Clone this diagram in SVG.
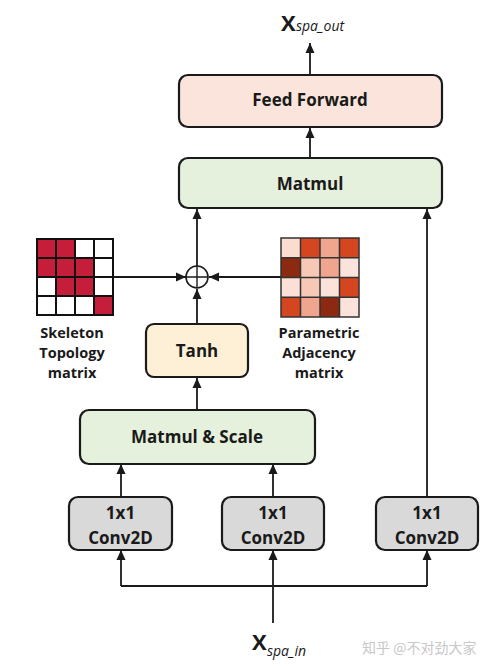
<svg xmlns="http://www.w3.org/2000/svg" width="496" height="667" viewBox="0 0 496 667">
<style>
.box{stroke:#1a1a1a;stroke-width:2.2}
.t{font-family:"Open Sans","Liberation Sans",sans-serif;font-weight:700;font-size:17px;fill:#1a1a1a;text-anchor:middle}
.lbl{font-family:"Open Sans","Liberation Sans",sans-serif;font-weight:700;font-size:14.5px;fill:#1a1a1a;text-anchor:middle}
.ln{stroke:#1a1a1a;stroke-width:1.8;fill:none}
.g1{stroke:#111;stroke-width:2}
.g2{stroke:#333;stroke-width:1.5}
</style>
<defs>
<marker id="a" viewBox="0 0 10 10" refX="10" refY="5" markerWidth="10" markerHeight="10" orient="auto" markerUnits="userSpaceOnUse">
<path d="M0,0.5 L10,5 L0,9.5 z" fill="#1a1a1a"/>
</marker>
</defs>
<rect width="496" height="667" fill="#fff"/>

<g id="connectors">
<path class="ln" d="M310,74 V43" marker-end="url(#a)"/>
<path class="ln" d="M310,158 V128" marker-end="url(#a)"/>
<path class="ln" d="M197,266 V209" marker-end="url(#a)"/>
<path class="ln" d="M197,324 V289" marker-end="url(#a)"/>
<path class="ln" d="M113,277 H186" marker-end="url(#a)"/>
<path class="ln" d="M281,277 H209" marker-end="url(#a)"/>
<path class="ln" d="M197,410 V378" marker-end="url(#a)"/>
<path class="ln" d="M121,497 V464" marker-end="url(#a)"/>
<path class="ln" d="M273,497 V464" marker-end="url(#a)"/>
<path class="ln" d="M427,497 V209" marker-end="url(#a)"/>
<path class="ln" d="M273,623 V550" marker-end="url(#a)"/>
<path class="ln" d="M121,586 H427"/>
<path class="ln" d="M121,586 V550" marker-end="url(#a)"/>
<path class="ln" d="M427,586 V550" marker-end="url(#a)"/>
</g>

<g id="out-label">
<text x="281" y="31" font-family="'Open Sans','Liberation Sans',sans-serif" font-weight="700" font-size="22" fill="#1a1a1a">X</text>
<text x="296" y="31" font-family="'Open Sans','Liberation Sans',sans-serif" font-style="italic" font-size="14" fill="#1a1a1a">spa_out</text>
</g>

<g id="feed-forward">
<rect class="box" x="179" y="75" width="263" height="52" rx="9" fill="#fbe4db"/>
<text class="t" x="310" y="106">Feed Forward</text>
</g>

<g id="matmul">
<rect class="box" x="179" y="158" width="263" height="50" rx="9" fill="#e5f1dc"/>
<text class="t" x="310" y="190">Matmul</text>
</g>

<g id="add">
<circle cx="197" cy="277" r="11" fill="#fff" stroke="#1a1a1a" stroke-width="1.6"/>
<path d="M186,277 H208 M197,266 V288" stroke="#1a1a1a" stroke-width="1.4"/>
</g>

<g id="skeleton-matrix">
<g fill="#c41e3a">
<rect x="37" y="239" width="19" height="19"/><rect x="56" y="239" width="19" height="19"/>
<rect x="37" y="258" width="19" height="19"/><rect x="56" y="258" width="19" height="19"/><rect x="75" y="258" width="19" height="19"/>
<rect x="56" y="277" width="19" height="19"/><rect x="75" y="277" width="19" height="19"/>
<rect x="94" y="296" width="19" height="19"/>
</g>
<g class="g1" fill="none">
<rect x="37" y="239" width="76" height="76"/>
<path d="M56,239 V315 M75,239 V315 M94,239 V315 M37,258 H113 M37,277 H113 M37,296 H113"/>
</g>
<text class="lbl" x="72" y="338">Skeleton</text>
<text class="lbl" x="72" y="358">Topology</text>
<text class="lbl" x="72" y="378">matrix</text>
</g>

<g id="parametric-matrix">
<rect x="281" y="238" width="19.5" height="19.75" fill="#fadcd0"/>
<rect x="300.5" y="238" width="19.5" height="19.75" fill="#d4461f"/>
<rect x="320" y="238" width="19.5" height="19.75" fill="#f0a68e"/>
<rect x="339.5" y="238" width="19.5" height="19.75" fill="#d4461f"/>
<rect x="281" y="257.75" width="19.5" height="19.75" fill="#8b2a10"/>
<rect x="300.5" y="257.75" width="19.5" height="19.75" fill="#f7c8b6"/>
<rect x="320" y="257.75" width="19.5" height="19.75" fill="#f0a68e"/>
<rect x="339.5" y="257.75" width="19.5" height="19.75" fill="#fbe3dc"/>
<rect x="281" y="277.5" width="19.5" height="19.75" fill="#fbe0d6"/>
<rect x="300.5" y="277.5" width="19.5" height="19.75" fill="#f7c8b6"/>
<rect x="320" y="277.5" width="19.5" height="19.75" fill="#fbe3dc"/>
<rect x="339.5" y="277.5" width="19.5" height="19.75" fill="#d4461f"/>
<rect x="281" y="297.25" width="19.5" height="19.75" fill="#d4461f"/>
<rect x="300.5" y="297.25" width="19.5" height="19.75" fill="#f0a68e"/>
<rect x="320" y="297.25" width="19.5" height="19.75" fill="#8b2a10"/>
<rect x="339.5" y="297.25" width="19.5" height="19.75" fill="#fbe3dc"/>
<g class="g2" fill="none">
<rect x="281" y="238" width="78" height="79"/>
<path d="M300.5,238 V317 M320,238 V317 M339.5,238 V317 M281,257.75 H359 M281,277.5 H359 M281,297.25 H359"/>
</g>
<text class="lbl" x="319" y="338">Parametric</text>
<text class="lbl" x="319" y="358">Adjacency</text>
<text class="lbl" x="319" y="378">matrix</text>
</g>

<g id="tanh">
<rect class="box" x="146" y="324" width="102" height="53" rx="8" fill="#fdf0d6"/>
<text class="t" x="197" y="357">Tanh</text>
</g>

<g id="matmul-scale">
<rect class="box" x="80" y="410" width="235" height="54" rx="9" fill="#e5f1dc"/>
<text class="t" x="197" y="443">Matmul &amp; Scale</text>
</g>

<g id="conv1">
<rect class="box" x="69" y="497" width="103" height="53" rx="9" fill="#d9d9d9"/>
<text class="t" x="120.5" y="519">1x1</text>
<text class="t" x="120.5" y="544">Conv2D</text>
</g>
<g id="conv2">
<rect class="box" x="222" y="497" width="102" height="53" rx="9" fill="#d9d9d9"/>
<text class="t" x="273" y="519">1x1</text>
<text class="t" x="273" y="544">Conv2D</text>
</g>
<g id="conv3">
<rect class="box" x="376" y="497" width="102" height="53" rx="9" fill="#d9d9d9"/>
<text class="t" x="427" y="519">1x1</text>
<text class="t" x="427" y="544">Conv2D</text>
</g>

<g id="in-label">
<text x="252" y="650" font-family="'Open Sans','Liberation Sans',sans-serif" font-weight="700" font-size="22" fill="#1a1a1a">X</text>
<text x="267" y="656" font-family="'Open Sans','Liberation Sans',sans-serif" font-style="italic" font-size="14" fill="#1a1a1a">spa_in</text>
</g>

<text x="362" y="653" font-family="'Noto Sans CJK SC',sans-serif" font-size="14" fill="#c8c8c8">知乎 @不对劲大家</text>
</svg>
